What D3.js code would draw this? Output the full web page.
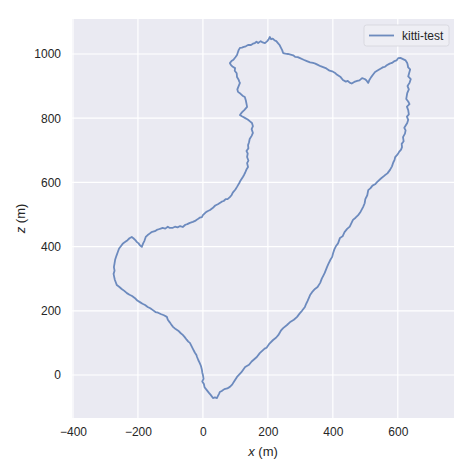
<!DOCTYPE html>
<html><head><meta charset="utf-8">
<script src="https://cdn.jsdelivr.net/npm/d3@7"></script>
<style>body{margin:0;background:#fff}svg{display:block}</style>
</head><body>
<script>
const seriesName = "kitti-test";
const xTicks = [-400, -200, 0, 200, 400, 600];
const zTicks = [0, 200, 400, 600, 800, 1000];
// trajectory points [x, z] in metres
const trajectory = [
[0,0],[2,-12],[-2,-20],[3,-28],[5,-38],[12,-47],[18,-55],[24,-62],[31,-72],[37,-70],[43,-72],[46,-66],[50,-58],[52,-53],[58,-50],[66,-44],[75,-42],[83,-37],[90,-30],[95,-22],[100,-14],[105,-6],
[118,8],[130,25],[142,32],[150,42],[166,56],[175,68],[190,82],[196,85],[205,98],[216,109],[225,116],[232,124],[240,138],[247,146],[258,155],[270,166],[280,172],[290,181],[298,192],[305,200],[314,212],[318,222],[322,230],[330,249],[336,258],[345,268],[353,274],[361,287],[366,300],[372,312],[375,318],[382,336],[386,345],[392,358],[398,368],[401,380],[405,392],[410,402],[416,410],[422,427],[430,432],[436,445],[444,455],[452,462],[462,483],[470,490],[478,498],[484,506],[493,523],[498,535],[500,548],[506,560],[509,576],[516,582],[522,590],[530,594],[536,601],[548,612],[560,622],[568,628],[576,639],[582,650],[586,662],[590,670],[592,679],[600,688],[604,695],[610,702],[613,710],[612,720],[618,728],[616,741],[622,752],[624,762],[620,770],[629,785],[632,795],[628,805],[634,812],[632,825],[628,836],[636,844],[632,852],[626,860],[629,878],[634,890],[630,900],[636,910],[640,922],[632,930],[635,941],[638,952],[632,958],[630,968],[629,972],[624,980],[616,984],[608,988],[601,987],[596,980],[590,978],[582,972],[575,970],[566,965],[560,960],[555,959],[548,955],[540,950],[530,944],[524,936],[518,928],[512,918],[509,910],[503,918],[498,922],[490,925],[482,918],[475,916],[466,913],[458,908],[453,910],[446,916],[440,914],[431,919],[424,928],[418,932],[412,936],[407,941],[398,946],[390,948],[380,955],[370,959],[362,962],[354,966],[346,970],[339,972],[330,974],[320,978],[310,982],[299,987],[292,990],[284,991],[278,996],[270,998],[262,1000],[254,1001],[247,1003],[244,1012],[240,1020],[236,1028],[231,1034],[226,1040],[220,1043],[215,1048],[210,1046],[206,1053],[202,1045],[198,1040],[191,1034],[184,1036],[178,1040],[170,1034],[165,1038],[160,1034],[154,1032],[148,1028],[139,1028],[132,1024],[126,1022],[120,1020],[114,1019],[110,1012],[108,1006],[105,997],[100,990],[94,982],[88,978],[83,972],[86,966],[92,960],[99,956],[98,948],[104,940],[105,928],[110,920],[112,914],[114,910],[110,900],[106,890],[108,882],[116,876],[122,870],[129,866],[132,856],[134,846],[136,835],[128,826],[120,818],[114,810],[120,806],[129,801],[138,796],[145,790],[151,785],[154,775],[150,766],[154,754],[150,745],[144,735],[142,725],[139,716],[140,706],[134,698],[138,690],[136,679],[140,668],[136,660],[139,648],[134,640],[130,630],[127,624],[123,617],[116,606],[112,598],[105,586],[100,578],[92,568],[88,560],[83,554],[76,548],[70,548],[64,542],[58,540],[52,536],[46,532],[38,528],[30,520],[22,514],[14,510],[8,506],[0,498],[-3,492],[-10,490],[-18,484],[-24,480],[-31,477],[-40,474],[-48,470],[-54,468],[-62,461],[-70,464],[-78,460],[-86,462],[-94,458],[-102,458],[-108,462],[-116,456],[-124,458],[-130,456],[-136,454],[-142,452],[-148,448],[-156,446],[-162,442],[-170,436],[-176,430],[-180,418],[-184,410],[-188,399],[-194,404],[-198,410],[-203,414],[-208,420],[-214,426],[-219,430],[-226,426],[-232,420],[-240,414],[-246,410],[-252,402],[-258,394],[-262,383],[-266,372],[-270,360],[-272,348],[-274,336],[-272,325],[-275,315],[-273,305],[-271,296],[-268,288],[-265,280],[-258,275],[-250,268],[-242,262],[-234,255],[-226,250],[-218,246],[-210,240],[-202,232],[-194,227],[-186,222],[-178,218],[-170,212],[-162,208],[-154,202],[-146,196],[-138,194],[-130,190],[-120,186],[-111,181],[-108,172],[-102,164],[-98,158],[-92,150],[-84,143],[-76,138],[-68,130],[-62,125],[-56,118],[-50,110],[-45,104],[-40,100],[-35,90],[-30,80],[-25,70],[-20,62],[-18,56],[-14,46],[-10,38],[-6,28],[-3,16],[-2,8],[0,0]
];
const xs = trajectory.map(p => p[0]);
const zs = trajectory.map(p => p[1]);

const W = 474, H = 474;
const m = {l:72, r:454, t:19, b:418};
const svg = d3.select("body").append("svg").attr("width", W).attr("height", H);
const x = d3.scaleLinear().domain([-403, 773]).range([m.l, m.r]);
const y = d3.scaleLinear().domain([-134, 1109]).range([m.b, m.t]);

svg.append("rect").attr("x", m.l).attr("y", m.t).attr("width", m.r-m.l).attr("height", m.b-m.t).attr("fill", "#EAEAF2");

const g = svg.append("g");
g.selectAll(".gx").data(xTicks).join("line")
  .attr("x1", d=>x(d)).attr("x2", d=>x(d)).attr("y1", m.t).attr("y2", m.b)
  .attr("stroke", "#fff").attr("stroke-width", 1.2);
g.selectAll(".gy").data(zTicks).join("line")
  .attr("y1", d=>y(d)).attr("y2", d=>y(d)).attr("x1", m.l).attr("x2", m.r)
  .attr("stroke", "#fff").attr("stroke-width", 1.2);

const font = "'Liberation Sans', Arial, sans-serif";
const fmt = d => d < 0 ? "\u2212" + Math.abs(d) : String(d);
const xAxis = svg.append("g").attr("transform", `translate(0,${m.b})`)
  .call(d3.axisBottom(x).tickValues(xTicks).tickSize(0).tickPadding(9).tickFormat(fmt));
const yAxis = svg.append("g").attr("transform", `translate(${m.l},0)`)
  .call(d3.axisLeft(y).tickValues(zTicks).tickSize(0).tickPadding(11).tickFormat(fmt));
[xAxis, yAxis].forEach(a => {
  a.select(".domain").remove();
  a.selectAll("text").attr("fill", "#262626").style("font-family", font).style("font-size", "12px");
});

const line = d3.line().x((d,i)=>x(xs[i])).y((d,i)=>y(zs[i]));
svg.append("path").datum(xs).attr("d", line)
  .attr("fill", "none").attr("stroke", "#4C72B0").attr("stroke-opacity", 0.8)
  .attr("stroke-width", 1.8).attr("stroke-linejoin", "round");

svg.append("text").attr("x", (m.l+m.r)/2).attr("y", 456).attr("text-anchor", "middle")
  .attr("fill", "#262626").style("font-family", font).style("font-size", "13px")
  .html('<tspan font-style="italic">x</tspan> (m)');
svg.append("text").attr("transform", `translate(25,${(m.t+m.b)/2}) rotate(-90)`).attr("text-anchor", "middle")
  .attr("fill", "#262626").style("font-family", font).style("font-size", "13px")
  .html('<tspan font-style="italic">z</tspan> (m)');

const lg = svg.append("g");
lg.append("rect").attr("x", 364).attr("y", 25).attr("width", 85).attr("height", 21).attr("rx", 2.5)
  .attr("fill", "#EEEEF4").attr("stroke", "#d4d4dc").attr("stroke-width", 0.8);
lg.append("line").attr("x1", 369).attr("x2", 394).attr("y1", 35.5).attr("y2", 35.5)
  .attr("stroke", "#4C72B0").attr("stroke-opacity", 0.8).attr("stroke-width", 1.8);
lg.append("text").attr("x", 402).attr("y", 39.5).attr("fill", "#262626")
  .style("font-family", font).style("font-size", "12px").text(seriesName);
</script>
</body></html>
